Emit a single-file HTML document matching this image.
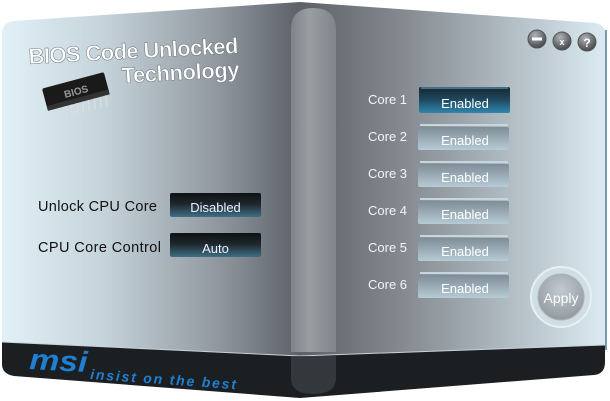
<!DOCTYPE html>
<html><head><meta charset="utf-8"><style>
html,body{margin:0;padding:0;background:#fff;width:610px;height:401px;overflow:hidden}
svg text{font-family:"Liberation Sans",sans-serif}
</style></head><body>
<svg width="610" height="401" viewBox="0 0 610 401" xmlns="http://www.w3.org/2000/svg">
<defs>
<linearGradient id="lp" x1="0" x2="1" y1="0" y2="0">
<stop offset="0" stop-color="#e2f0f8"/><stop offset="0.35" stop-color="#c4d2da"/><stop offset="0.7" stop-color="#959ca3"/><stop offset="1" stop-color="#5c6168"/></linearGradient>
<linearGradient id="rp" x1="0" x2="1" y1="0" y2="0">
<stop offset="0" stop-color="#5c6168"/><stop offset="0.35" stop-color="#868c92"/><stop offset="0.7" stop-color="#b3bec5"/><stop offset="1" stop-color="#dcebf3"/></linearGradient>
<linearGradient id="sp" x1="0" x2="1"><stop offset="0" stop-color="#7e8389"/><stop offset="0.4" stop-color="#999ea3"/><stop offset="1" stop-color="#80858b"/></linearGradient>
<linearGradient id="db" x1="0" y1="0" x2="0" y2="1"><stop offset="0" stop-color="#0e1114"/><stop offset="0.45" stop-color="#1d262c"/><stop offset="1" stop-color="#3f6f85"/></linearGradient>
<linearGradient id="bb" x1="0" y1="0" x2="0" y2="1"><stop offset="0" stop-color="#17262f"/><stop offset="0.5" stop-color="#1f4a60"/><stop offset="1" stop-color="#2f86ad"/></linearGradient>
<linearGradient id="lb" x1="0" y1="0" x2="0" y2="1"><stop offset="0" stop-color="#7f8d96"/><stop offset="1" stop-color="#b6cbd6"/></linearGradient>
<radialGradient id="cb" cx="0.4" cy="0.3" r="0.7"><stop offset="0" stop-color="#b0b4b8"/><stop offset="1" stop-color="#45494e"/></radialGradient>
<radialGradient id="ap" cx="0.5" cy="0.35" r="0.7"><stop offset="0" stop-color="#c4cbd0"/><stop offset="1" stop-color="#8e969c"/></radialGradient>
</defs>
<path d="M2,34 Q2,22 14,21 L300,2 L300,360 L2,345 Z" fill="url(#lp)"/>
<path d="M300,2 L595,23 Q606,25 606,36 L606,348 L300,360 Z" fill="url(#rp)"/>
<line x1="606" y1="30" x2="606" y2="350" stroke="#4a7f8e" stroke-width="1.5"/>
<path d="M2,342 L300,356 L605,345 L605,362 Q605,374 594,375 L300,398 L14,376 Q2,374 2,364 Z" fill="#1c1f22"/>
<path d="M2,342 L300,356 L605,345" fill="none" stroke="#c8d2d8" stroke-width="1"/>
<path d="M291,30 Q291,8 313,8 Q336,8 336,30 L336,352 L291,352 Z" fill="url(#sp)"/>
<path d="M291,356 L336,356 L336,378 Q336,394 313,394 Q291,394 291,378 Z" fill="#3a3f44" opacity="0.8"/>
<text x="29" y="64" font-size="22" font-weight="bold" fill="#fff" stroke="#6a7077" stroke-width="0.5" transform="rotate(-3 29 64)" textLength="210">BIOS Code Unlocked</text>
<text x="122" y="83" font-size="22" font-weight="bold" fill="#fff" stroke="#6a7077" stroke-width="0.5" transform="rotate(-3 122 83)" textLength="118">Technology</text>
<g transform="rotate(-15 76 92)">
<rect x="44" y="80" width="64" height="22" rx="2" fill="#1a1a1a"/>
<rect x="44" y="98" width="64" height="5" fill="#333"/>
<text x="64" y="95" font-size="10" fill="#999" font-weight="bold">BIOS</text>
<g stroke="#ddd" stroke-width="1.3"><line x1="62" y1="103" x2="60" y2="114"/><line x1="68" y1="103" x2="66" y2="114"/><line x1="74" y1="103" x2="72" y2="114"/><line x1="80" y1="103" x2="78" y2="114"/><line x1="86" y1="103" x2="84" y2="114"/><line x1="92" y1="103" x2="90" y2="114"/><line x1="98" y1="103" x2="96" y2="114"/><line x1="104" y1="103" x2="102" y2="114"/></g>
</g>
<text x="38" y="211" font-size="14.5" fill="#111" textLength="119">Unlock CPU Core</text>
<text x="38" y="252" font-size="14.5" fill="#111" textLength="123">CPU Core Control</text>
<rect x="170" y="193" width="91" height="24" rx="2" fill="url(#db)"/>
<text x="215.5" y="212" font-size="13" fill="#eef" text-anchor="middle">Disabled</text>
<rect x="170" y="233" width="91" height="24" rx="2" fill="url(#db)"/>
<text x="215.5" y="253" font-size="13" fill="#eef" text-anchor="middle">Auto</text>
<g font-size="13" fill="#f2f4f5">
<text x="368" y="104">Core 1</text><text x="368" y="141">Core 2</text><text x="368" y="178">Core 3</text>
<text x="368" y="215">Core 4</text><text x="368" y="252">Core 5</text><text x="368" y="289">Core 6</text>
</g>
<rect x="419" y="87" width="91" height="26" rx="2" fill="url(#bb)"/>
<line x1="421" y1="88" x2="508" y2="88" stroke="#6fb6dd"/>
<text x="465" y="108" font-size="13" fill="#fff" text-anchor="middle">Enabled</text>
<g font-size="13" fill="#fff" text-anchor="middle">
<rect x="418" y="127" width="91" height="23" rx="2" fill="url(#lb)"/><line x1="420" y1="125" x2="508" y2="125" stroke="#c5d6de" stroke-width="2"/><text x="465" y="145">Enabled</text>
<rect x="418" y="164" width="91" height="23" rx="2" fill="url(#lb)"/><line x1="420" y1="162" x2="508" y2="162" stroke="#c5d6de" stroke-width="2"/><text x="465" y="182">Enabled</text>
<rect x="418" y="201" width="91" height="23" rx="2" fill="url(#lb)"/><line x1="420" y1="199" x2="508" y2="199" stroke="#c5d6de" stroke-width="2"/><text x="465" y="219">Enabled</text>
<rect x="418" y="238" width="91" height="23" rx="2" fill="url(#lb)"/><line x1="420" y1="236" x2="508" y2="236" stroke="#c5d6de" stroke-width="2"/><text x="465" y="256">Enabled</text>
<rect x="418" y="275" width="91" height="23" rx="2" fill="url(#lb)"/><line x1="420" y1="273" x2="508" y2="273" stroke="#c5d6de" stroke-width="2"/><text x="465" y="293">Enabled</text>
</g>
<circle cx="537" cy="39" r="9" fill="url(#cb)" stroke="#555"/><rect x="532" y="37.5" width="10" height="3" fill="#fff"/>
<circle cx="562" cy="41" r="9" fill="url(#cb)" stroke="#555"/><text x="562" y="45" font-size="9" font-weight="bold" fill="#fff" text-anchor="middle">x</text>
<circle cx="587" cy="42" r="9" fill="url(#cb)" stroke="#555"/><text x="587" y="47" font-size="12" font-weight="bold" fill="#fff" text-anchor="middle">?</text>
<circle cx="561" cy="297" r="30" fill="#cfdde4" stroke="#e8f0f4" stroke-width="2"/>
<circle cx="561" cy="297" r="23" fill="url(#ap)" stroke="#a9b3b9"/>
<text x="561" y="303" font-size="14" fill="#fff" text-anchor="middle">Apply</text>
<text x="29" y="369" font-size="29" font-weight="bold" font-style="italic" fill="#1f7fd0" transform="rotate(3 29 369)" textLength="58" lengthAdjust="spacingAndGlyphs">msi</text>
<text x="90" y="379" font-size="14" font-weight="bold" font-style="italic" fill="#1f7fd0" transform="rotate(4 90 379)" textLength="146">insist on the best</text>
</svg>
</body></html>
